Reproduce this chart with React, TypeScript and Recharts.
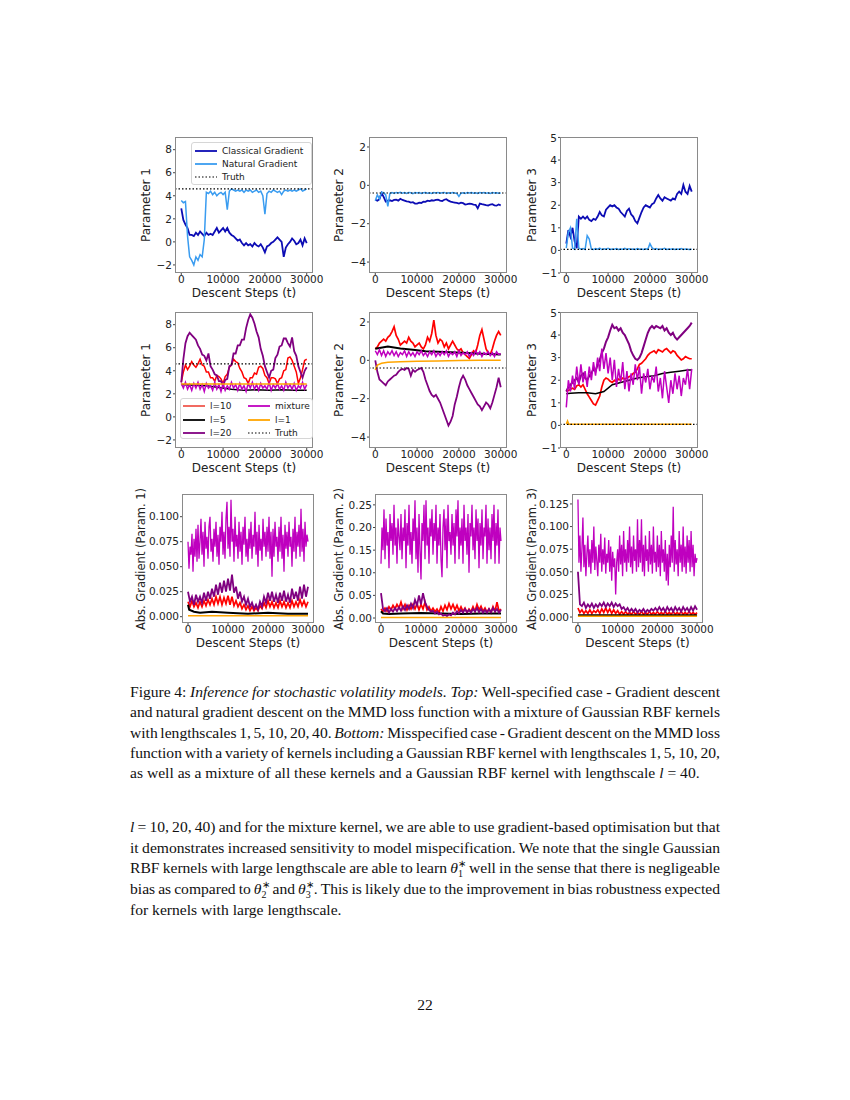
import React from 'react';
import { LineChart, Line, XAxis, YAxis, ReferenceLine } from 'recharts';

const STEPS = [
  0, 500, 1000, 1500, 2000, 2500, 3000, 3500, 4000, 4500,
  5000, 5500, 6000, 6500, 7000, 7500, 8000, 8500, 9000, 9500,
  10000, 10500, 11000, 11500, 12000, 12500, 13000, 13500, 14000, 14500,
  15000, 15500, 16000, 16500, 17000, 17500, 18000, 18500, 19000, 19500,
  20000, 20500, 21000, 21500, 22000, 22500, 23000, 23500, 24000, 24500,
  25000, 25500, 26000, 26500, 27000, 27500, 28000, 28500, 29000, 29500,
  30000,
];
// finer grid for the very noisy gradient traces
const STEPS_FINE = [
  0, 250, 500, 750, 1000, 1250, 1500, 1750, 2000, 2250,
  2500, 2750, 3000, 3250, 3500, 3750, 4000, 4250, 4500, 4750,
  5000, 5250, 5500, 5750, 6000, 6250, 6500, 6750, 7000, 7250,
  7500, 7750, 8000, 8250, 8500, 8750, 9000, 9250, 9500, 9750,
  10000, 10250, 10500, 10750, 11000, 11250, 11500, 11750, 12000, 12250,
  12500, 12750, 13000, 13250, 13500, 13750, 14000, 14250, 14500, 14750,
  15000, 15250, 15500, 15750, 16000, 16250, 16500, 16750, 17000, 17250,
  17500, 17750, 18000, 18250, 18500, 18750, 19000, 19250, 19500, 19750,
  20000, 20250, 20500, 20750, 21000, 21250, 21500, 21750, 22000, 22250,
  22500, 22750, 23000, 23250, 23500, 23750, 24000, 24250, 24500, 24750,
  25000, 25250, 25500, 25750, 26000, 26250, 26500, 26750, 27000, 27250,
  27500, 27750, 28000, 28250, 28500, 28750, 29000, 29250, 29500, 29750,
  30000,
];
const ENDS = [0, 30000];
const COARSE = [0, 3000, 6000, 9000, 12000, 15000, 18000, 21000, 24000, 27000, 30000];

const X_TICKS = [0, 10000, 20000, 30000];
const TICKS_P1 = [-2, 0, 2, 4, 6, 8];
const TICKS_P2 = [-4, -2, 0, 2];
const TICKS_P3 = [-1, 0, 1, 2, 3, 4, 5];
const TICKS_G1 = [0, 0.025, 0.05, 0.075, 0.1];
const TICKS_G2 = [0, 0.05, 0.1, 0.15, 0.2, 0.25];
const TICKS_G3 = [0, 0.025, 0.05, 0.075, 0.1, 0.125];

// true parameter values (dotted lines)
const TRUTH_1 = 4.6;
const TRUTH_2 = -0.4;
const TRUTH_3 = 0.05;

// --- top row: well-specified, classical vs natural gradient ---
const TOP1_CLASSICAL = [
  2.9, 1.9, 1.5, 1.2, 0.6, 0.6, 0.5, 0.8, 0.6, 0.9,
  0.7, 0.5, 0.8, 0.6, 0.7, 0.6, 0.9, 1.2, 0.8, 1.0,
  1.2, 0.9, 1.2, 0.8, 0.6, 0.5, 0.3, 0.1, 0.2, -0.1,
  -0.3, -0.1, -0.3, -0.2, -0.4, -0.1, -0.3, -0.4, -0.2, -0.5,
  -0.9, -0.4, -0.3, -0.1, 0.0, 0.2, 0.4, 0.2, 0.0, -1.3,
  -0.5, -0.2, 0.0, 0.3, 0.1, -0.2, -0.1, 0.2, -0.3, 0.3,
  -0.1,
];
const TOP1_NATURAL = [
  3.6, 3.4, 3.5, 0.5, -1.3, -1.6, -2.0, -1.3, -1.6, -1.1,
  -1.3, 0.2, 4.3, 4.2, 4.4, 4.1, 4.3, 4.0, 4.2, 4.3,
  4.1, 4.3, 2.8, 4.4, 4.6, 4.5, 4.4, 4.5, 4.4, 4.5,
  4.3, 4.5, 4.4, 4.5, 4.3, 4.4, 4.5, 4.3, 4.4, 4.0,
  2.4, 4.2, 4.4, 4.3, 4.5, 4.4, 4.3, 4.4, 4.1, 4.4,
  4.5, 4.4, 4.5, 4.4, 4.5, 4.4, 4.5, 4.6, 4.4, 4.5,
  4.6,
];
const TOP2_CLASSICAL = [
  -0.75, -0.8, -0.72, -0.4, -0.6, -0.85, -0.8, -0.78, -0.82, -0.76,
  -0.75, -0.8, -0.7, -0.76, -0.8, -0.84, -0.85, -0.9, -0.88, -0.95,
  -0.95, -0.9, -0.92, -0.85, -0.86, -0.8, -0.82, -0.78, -0.8, -0.76,
  -0.75, -0.8, -0.82, -0.75, -0.72, -0.8, -0.85, -0.88, -0.9, -0.92,
  -0.95, -0.9, -0.93, -1.0, -0.98, -0.95, -0.97, -1.0, -1.02, -1.2,
  -0.95, -0.98, -1.0, -1.03, -1.05, -1.0, -0.98, -1.04, -1.06, -1.0,
  -1.04,
];
const TOP2_NATURAL = [
  -0.8, -0.5, -0.7, -0.35, -0.38, -0.5, -1.1, -0.42, -0.38, -0.42,
  -0.37, -0.4, -0.36, -0.41, -0.38, -0.42, -0.37, -0.39, -0.43, -0.37,
  -0.4, -0.38, -0.42, -0.39, -0.37, -0.41, -0.39, -0.42, -0.37, -0.4,
  -0.38, -0.41, -0.39, -0.37, -0.42, -0.39, -0.41, -0.38, -0.4, -0.42,
  -0.58, -0.41, -0.39, -0.42, -0.38, -0.4, -0.37, -0.41, -0.39, -0.42,
  -0.38, -0.4, -0.37, -0.41, -0.39, -0.42, -0.38, -0.4, -0.39, -0.41,
  -0.4,
];
const TOP3_CLASSICAL = [
  0.3, 0.9, 0.6, 1.0, 0.4, 0.1, 1.5, 1.4, 1.5, 1.4,
  1.5, 1.35, 1.3, 1.4, 1.35, 1.5, 1.7, 1.55, 1.5, 1.8,
  1.9, 2.0, 1.95, 2.0, 1.9, 1.85, 1.7, 1.6, 1.5, 1.75,
  1.85, 1.6, 1.5, 1.3, 1.2, 1.45, 1.7, 1.9, 2.0, 1.95,
  1.9, 2.05, 2.1, 2.3, 2.45, 2.3, 2.2, 2.35, 2.3, 2.25,
  2.2, 2.3, 2.25, 2.5, 2.6, 2.5, 2.9, 2.6, 2.5, 2.85,
  2.6,
];
const TOP3_NATURAL = [
  0.1, 0.8, 1.0, 0.1, 0.05, 1.4, 0.1, 0.05, 0.08, 0.04,
  0.65, 0.5, 0.06, 0.04, 0.08, 0.05, 0.1, 0.04, 0.07, 0.05,
  0.09, 0.04, 0.06, 0.05, 0.08, 0.04, 0.06, 0.05, 0.09, 0.04,
  0.07, 0.05, 0.06, 0.04, 0.08, 0.05, 0.06, 0.04, 0.07, 0.05,
  0.3, 0.12, 0.05, 0.08, 0.04, 0.06, 0.05, 0.09, 0.04, 0.06,
  0.05, 0.07, 0.04, 0.06, 0.05, 0.08, 0.04, 0.06, 0.05, 0.04,
  0.05,
];

// --- middle row: misspecified, parameter traces per kernel ---
const MID1_L10 = [
  3.0, 3.9, 4.5, 4.1, 4.4, 4.8, 4.5, 4.3, 4.6, 5.0,
  4.5, 4.4, 3.9, 3.9, 3.4, 3.4, 3.1, 3.6, 3.5, 3.3,
  2.9, 3.5, 3.7, 4.3, 4.5, 5.0, 4.8, 4.7, 4.2, 3.9,
  3.4, 3.3, 2.9, 3.4, 3.4, 3.8, 3.7, 4.3, 4.4, 4.2,
  3.6, 3.4, 2.9, 3.4, 3.4, 3.3, 2.9, 3.3, 3.4, 4.0,
  4.1, 5.1, 5.2, 4.9, 4.4, 3.9, 2.9, 3.4, 4.1, 4.9,
  5.0,
];
const MID1_L5 = [2.8, 2.75, 2.7, 2.55, 2.4, 2.3, 2.35, 2.3, 2.35, 2.3, 2.3];
const MID1_L20 = [
  3.0, 5.0, 6.4, 7.0, 7.3, 7.1, 6.9, 6.7, 6.2, 5.9,
  5.4, 5.3, 4.9, 5.5, 4.4, 4.1, 3.7, 3.6, 3.1, 3.1,
  2.7, 3.2, 3.3, 4.4, 4.5, 5.5, 5.5, 6.2, 6.2, 6.7,
  6.7, 7.7, 8.4, 8.9, 8.6, 8.1, 7.4, 6.9, 5.9, 5.3,
  4.4, 3.9, 3.4, 4.0, 4.1, 5.1, 5.4, 6.1, 6.2, 6.8,
  6.8, 6.4, 6.1, 6.9, 5.7, 5.3, 4.4, 3.9, 3.4, 4.0,
  4.3,
];
const MID1_MIX = [
  2.9, 2.5, 3.0, 2.4, 2.8, 2.3, 2.9, 2.5, 3.0, 2.4,
  2.8, 2.2, 2.9, 2.5, 2.7, 2.3, 3.0, 2.4, 2.8, 2.2,
  2.9, 2.3, 2.7, 2.4, 3.0, 2.5, 2.8, 2.3, 2.9, 2.4,
  2.7, 2.2, 2.9, 2.5, 3.0, 2.4, 2.8, 2.3, 2.9, 2.5,
  2.7, 2.4, 3.0, 2.3, 2.8, 2.5, 2.9, 2.4, 2.7, 2.3,
  3.0, 2.5, 2.8, 2.4, 2.9, 2.3, 2.7, 2.5, 3.0, 2.4,
  2.8,
];
const MID1_L1 = [2.85, 2.85];

const MID2_L10 = [
  0.6, 0.7, 0.9, 1.0, 1.1, 1.0, 1.2, 1.3, 1.5, 1.75,
  1.3, 1.1, 0.8, 0.9, 1.0, 0.9, 1.2, 1.0, 0.9, 0.7,
  0.8, 0.9, 0.7, 0.6, 0.8, 1.2, 1.0, 1.4, 2.1, 1.3,
  0.9, 1.1, 1.0, 0.7, 0.9, 0.6, 0.8, 1.0, 0.8, 0.6,
  0.5, 0.6, 0.4, 0.3, 0.2, 0.1, 0.3, 0.5, 0.4, 0.8,
  1.3, 1.6, 1.1, 0.6, 0.4, 0.3, 0.6, 1.0, 1.3, 1.5,
  1.3,
];
const MID2_L5 = [0.6, 0.72, 0.62, 0.55, 0.48, 0.45, 0.42, 0.4, 0.36, 0.33, 0.3];
const MID2_L20 = [
  0.0, -0.6, -1.0, -1.1, -1.2, -1.3, -1.1, -1.0, -0.9, -0.8,
  -0.75, -0.6, -0.5, -0.45, -0.5, -0.4, -0.45, -0.8, -0.5, -0.6,
  -0.5, -0.45, -0.4, -0.6, -1.0, -1.3, -1.6, -1.8, -1.9, -1.8,
  -2.0, -2.2, -2.5, -2.8, -3.1, -3.4, -3.2, -2.9, -2.3, -1.9,
  -1.4, -1.0, -0.8, -1.0, -1.3, -1.5, -1.7, -1.9, -2.1, -2.3,
  -2.4, -2.6, -2.4, -2.2, -2.3, -2.5, -2.2, -1.8, -1.4, -0.9,
  -1.4,
];
const MID2_MIX = [
  0.5, 0.3, 0.55, 0.25, 0.5, 0.2, 0.45, 0.3, 0.5, 0.25,
  0.45, 0.2, 0.4, 0.3, 0.5, 0.2, 0.45, 0.25, 0.4, 0.2,
  0.45, 0.3, 0.5, 0.25, 0.4, 0.2, 0.45, 0.3, 0.5, 0.2,
  0.4, 0.25, 0.45, 0.3, 0.5, 0.2, 0.4, 0.3, 0.45, 0.2,
  0.5, 0.25, 0.4, 0.3, 0.45, 0.2, 0.4, 0.25, 0.5, 0.3,
  0.45, 0.2, 0.4, 0.3, 0.45, 0.25, 0.4, 0.2, 0.45, 0.3,
  0.35,
];
const MID2_L1_STEPS = [0, 500, 1500, 3000, 6000, 10000, 15000, 20000, 25000, 30000];
const MID2_L1 = [-0.5, -0.25, -0.15, -0.1, -0.07, -0.05, -0.03, -0.01, 0.0, 0.0];

const MID3_L10 = [
  1.5, 1.55, 1.6, 1.65, 1.6, 1.75, 1.8, 1.7, 1.8, 1.6,
  1.4, 1.25, 1.1, 0.95, 0.9, 1.1, 1.3, 1.7, 2.0, 2.1,
  2.05, 1.95, 1.9, 2.0, 1.95, 2.05, 2.0, 2.1, 2.05, 2.1,
  2.15, 2.2, 2.3, 2.35, 2.5, 2.7, 2.75, 2.85, 2.95, 3.1,
  3.2, 3.25, 3.3, 3.2, 3.35, 3.3, 3.25, 3.35, 3.4, 3.3,
  3.2, 3.3, 3.25, 3.1, 3.0, 2.9, 2.95, 3.05, 3.0, 2.95,
  2.95,
];
const MID3_L5_STEPS = [0, 1000, 3000, 5000, 7000, 9000, 11000, 13000, 15000, 17000, 19000, 21000, 23000, 25000, 27000, 29000, 30000];
const MID3_L5 = [1.4, 1.42, 1.45, 1.45, 1.4, 1.5, 1.8, 1.9, 2.0, 2.1, 2.15, 2.2, 2.3, 2.35, 2.4, 2.45, 2.45];
const MID3_L20 = [
  1.5, 1.7, 1.8, 1.9, 2.0, 2.1, 1.9, 2.2, 2.3, 2.1,
  2.0, 2.2, 2.3, 2.5, 2.4, 2.7, 2.9, 3.2, 3.4, 3.7,
  3.9, 4.2, 4.45, 4.3, 4.35, 4.2, 4.3, 4.1, 4.0, 3.8,
  3.6, 3.3, 3.1, 2.95, 2.9, 3.0, 3.2, 3.5, 3.8, 4.1,
  4.3, 4.4, 4.3, 4.4, 4.35, 4.3, 4.4, 4.2, 4.3, 4.1,
  4.0, 4.1, 3.9, 3.8, 3.9, 4.0, 4.1, 4.2, 4.3, 4.4,
  4.55,
];
const MID3_MIX = [
  0.8, 2.0, 1.5, 2.2, 1.6, 2.6, 1.8, 2.7, 1.9, 2.4,
  1.7, 2.6, 2.0, 2.8, 2.2, 3.0, 2.4, 3.4, 2.5, 3.2,
  2.3, 3.0, 2.0, 2.9, 1.7, 2.5, 1.9, 2.8, 1.6, 2.4,
  1.5, 2.3, 1.8, 2.7, 2.0, 2.6, 1.4, 2.3, 1.9, 2.5,
  1.6, 2.2, 1.9, 2.6, 1.5, 2.1, 1.2, 2.4, 1.7, 1.0,
  2.0, 1.4, 2.3, 1.6, 2.2, 1.3, 2.1, 1.8, 2.5, 1.6,
  2.5,
];
const MID3_L1_STEPS = [0, 300, 600, 1500, 30000];
const MID3_L1 = [0.05, 0.2, 0.05, 0.05, 0.05];

// --- bottom row: absolute gradients ---
const BOT1_L10 = [
  0.015, 0.01, 0.016, 0.01, 0.014, 0.009, 0.015, 0.01, 0.016, 0.011,
  0.017, 0.012, 0.018, 0.012, 0.02, 0.013, 0.02, 0.012, 0.019, 0.013,
  0.021, 0.012, 0.02, 0.011, 0.016, 0.01, 0.014, 0.008, 0.012, 0.007,
  0.011, 0.006, 0.01, 0.006, 0.009, 0.006, 0.011, 0.008, 0.014, 0.009,
  0.016, 0.01, 0.015, 0.009, 0.014, 0.009, 0.016, 0.01, 0.015, 0.009,
  0.014, 0.009, 0.016, 0.01, 0.015, 0.01, 0.017, 0.011, 0.016, 0.01,
  0.015,
];
const BOT1_L5_STEPS = [0, 300, 1500, 3000, 6000, 10000, 15000, 20000, 25000, 30000];
const BOT1_L5 = [0.012, 0.007, 0.005, 0.004, 0.005, 0.004, 0.003, 0.004, 0.003, 0.003];
const BOT1_L20 = [
  0.025, 0.015, 0.02, 0.012, 0.022, 0.015, 0.02, 0.014, 0.024, 0.016,
  0.025, 0.018, 0.028, 0.02, 0.032, 0.022, 0.034, 0.024, 0.036, 0.025,
  0.038, 0.026, 0.042, 0.024, 0.03, 0.018, 0.025, 0.015, 0.02, 0.012,
  0.018, 0.01, 0.014, 0.008, 0.012, 0.007, 0.015, 0.01, 0.02, 0.014,
  0.024, 0.016, 0.025, 0.015, 0.022, 0.014, 0.024, 0.016, 0.026, 0.015,
  0.022, 0.014, 0.028, 0.018, 0.025, 0.016, 0.03, 0.018, 0.032, 0.02,
  0.03,
];
const BOT1_MIX = [
  0.075, 0.048, 0.07, 0.062, 0.083, 0.045, 0.078, 0.06, 0.088, 0.055,
  0.092, 0.058, 0.075, 0.098, 0.062, 0.085, 0.05, 0.095, 0.068, 0.08,
  0.058, 0.09, 0.1, 0.065, 0.078, 0.055, 0.088, 0.07, 0.095, 0.06,
  0.082, 0.052, 0.09, 0.075, 0.105, 0.062, 0.085, 0.058, 0.098, 0.115,
  0.068, 0.09, 0.06, 0.117, 0.075, 0.088, 0.055, 0.1, 0.07, 0.082,
  0.058, 0.095, 0.065, 0.085, 0.052, 0.09, 0.072, 0.1, 0.06, 0.078,
  0.055, 0.088, 0.068, 0.095, 0.058, 0.082, 0.07, 0.105, 0.062, 0.085,
  0.05, 0.092, 0.066, 0.078, 0.056, 0.098, 0.07, 0.085, 0.06, 0.09,
  0.065, 0.1, 0.058, 0.085, 0.04, 0.088, 0.06, 0.095, 0.07, 0.08,
  0.055, 0.09, 0.065, 0.1, 0.058, 0.082, 0.045, 0.092, 0.068, 0.085,
  0.06, 0.095, 0.07, 0.08, 0.05, 0.088, 0.065, 0.1, 0.058, 0.085,
  0.07, 0.092, 0.06, 0.108, 0.065, 0.088, 0.055, 0.095, 0.07, 0.082,
  0.075,
];
const BOT1_L1 = [0.001, 0.001];

const BOT2_L10 = [
  0.02, 0.015, 0.022, 0.015, 0.025, 0.018, 0.028, 0.02, 0.03, 0.022,
  0.035, 0.02, 0.03, 0.018, 0.028, 0.02, 0.03, 0.02, 0.032, 0.018,
  0.03, 0.02, 0.035, 0.018, 0.025, 0.015, 0.022, 0.014, 0.02, 0.012,
  0.025, 0.015, 0.028, 0.018, 0.032, 0.02, 0.03, 0.018, 0.028, 0.016,
  0.025, 0.015, 0.022, 0.012, 0.02, 0.014, 0.025, 0.015, 0.03, 0.018,
  0.026, 0.015, 0.022, 0.013, 0.02, 0.012, 0.025, 0.015, 0.035, 0.015,
  0.02,
];
const BOT2_L5_STEPS = [0, 500, 2000, 5000, 10000, 15000, 20000, 25000, 30000];
const BOT2_L5 = [0.015, 0.01, 0.009, 0.01, 0.011, 0.01, 0.009, 0.01, 0.01];
const BOT2_L20 = [
  0.055, 0.02, 0.015, 0.022, 0.012, 0.02, 0.014, 0.022, 0.015, 0.024,
  0.016, 0.026, 0.018, 0.028, 0.02, 0.032, 0.022, 0.04, 0.028, 0.05,
  0.03, 0.055, 0.035, 0.025, 0.018, 0.014, 0.016, 0.01, 0.014, 0.008,
  0.01, 0.005, 0.007, 0.004, 0.008, 0.006, 0.012, 0.008, 0.015, 0.01,
  0.018, 0.012, 0.02, 0.013, 0.018, 0.012, 0.02, 0.014, 0.022, 0.013,
  0.02, 0.012, 0.018, 0.012, 0.02, 0.013, 0.022, 0.014, 0.02, 0.012,
  0.018,
];
const BOT2_MIX = [
  0.12, 0.2, 0.15, 0.24, 0.13, 0.22, 0.16, 0.19, 0.11, 0.23,
  0.17, 0.21, 0.14, 0.25, 0.16, 0.2, 0.12, 0.22, 0.18, 0.15,
  0.23, 0.13, 0.2, 0.17, 0.24, 0.11, 0.21, 0.16, 0.25, 0.14,
  0.19, 0.12, 0.22, 0.17, 0.26, 0.13, 0.2, 0.1, 0.23, 0.15,
  0.085, 0.21, 0.17, 0.25, 0.13, 0.26, 0.16, 0.2, 0.12, 0.22,
  0.18, 0.24, 0.14, 0.21, 0.17, 0.25, 0.12, 0.2, 0.16, 0.23,
  0.13, 0.09, 0.2, 0.24, 0.15, 0.22, 0.11, 0.25, 0.17, 0.19,
  0.14, 0.23, 0.16, 0.21, 0.12, 0.24, 0.18, 0.26, 0.13, 0.2,
  0.16, 0.22, 0.12, 0.25, 0.17, 0.2, 0.14, 0.23, 0.1, 0.21,
  0.18, 0.25, 0.15, 0.2, 0.13, 0.24, 0.17, 0.22, 0.11, 0.21,
  0.16, 0.24, 0.13, 0.2, 0.18, 0.25, 0.12, 0.22, 0.15, 0.2,
  0.13, 0.23, 0.17, 0.25, 0.12, 0.21, 0.16, 0.24, 0.12, 0.2,
  0.17,
];
const BOT2_L1 = [0.001, 0.001];

const BOT3_L10 = [
  0.01, 0.005, 0.008, 0.004, 0.007, 0.004, 0.008, 0.004, 0.007, 0.005,
  0.008, 0.004, 0.009, 0.005, 0.01, 0.005, 0.009, 0.004, 0.008, 0.004,
  0.007, 0.003, 0.006, 0.003, 0.006, 0.003, 0.005, 0.003, 0.006, 0.003,
  0.005, 0.003, 0.006, 0.003, 0.005, 0.003, 0.006, 0.003, 0.005, 0.003,
  0.006, 0.003, 0.005, 0.003, 0.006, 0.003, 0.005, 0.003, 0.006, 0.003,
  0.005, 0.003, 0.006, 0.003, 0.005, 0.003, 0.006, 0.003, 0.005, 0.003,
  0.005,
];
const BOT3_L5 = [0.002, 0.002];
const BOT3_L20 = [
  0.05, 0.014, 0.012, 0.016, 0.01, 0.014, 0.011, 0.015, 0.01, 0.014,
  0.011, 0.015, 0.012, 0.016, 0.011, 0.015, 0.012, 0.016, 0.011, 0.015,
  0.012, 0.014, 0.009, 0.011, 0.007, 0.01, 0.006, 0.009, 0.006, 0.009,
  0.005, 0.008, 0.006, 0.009, 0.005, 0.008, 0.006, 0.009, 0.007, 0.01,
  0.007, 0.011, 0.007, 0.01, 0.006, 0.011, 0.007, 0.01, 0.006, 0.011,
  0.007, 0.01, 0.006, 0.011, 0.007, 0.01, 0.006, 0.011, 0.007, 0.012,
  0.008,
];
const BOT3_MIX = [
  0.13, 0.06, 0.09, 0.05, 0.075, 0.11, 0.055, 0.08, 0.045, 0.07,
  0.09, 0.055, 0.075, 0.048, 0.085, 0.06, 0.1, 0.052, 0.078, 0.062,
  0.045, 0.08, 0.06, 0.092, 0.05, 0.075, 0.058, 0.088, 0.048, 0.07,
  0.06, 0.085, 0.05, 0.078, 0.04, 0.072, 0.055, 0.065, 0.025, 0.06,
  0.075, 0.05, 0.09, 0.058, 0.08, 0.045, 0.095, 0.06, 0.075, 0.05,
  0.085, 0.06, 0.1, 0.055, 0.078, 0.048, 0.09, 0.062, 0.075, 0.05,
  0.108, 0.055, 0.085, 0.06, 0.108, 0.05, 0.08, 0.045, 0.09, 0.062,
  0.075, 0.05, 0.095, 0.058, 0.08, 0.048, 0.1, 0.06, 0.072, 0.05,
  0.09, 0.055, 0.08, 0.045, 0.095, 0.06, 0.075, 0.05, 0.085, 0.04,
  0.07, 0.035, 0.08, 0.055, 0.09, 0.06, 0.122, 0.05, 0.085, 0.058,
  0.075, 0.045, 0.095, 0.06, 0.08, 0.05, 0.1, 0.055, 0.078, 0.048,
  0.09, 0.06, 0.085, 0.05, 0.095, 0.055, 0.08, 0.045, 0.07, 0.06,
  0.065,
];
const BOT3_L1 = [0.001, 0.001];

const COLORS = {
  classical: '#0c0cb4',
  natural: '#3a9cf0',
  l10: '#ff0000',
  l5: '#000000',
  l20: '#800080',
  mix: '#bf00bf',
  l1: '#ffa500',
};

const FONT = '"DejaVu Sans", sans-serif';
const SERIF = '"Liberation Serif", "Times New Roman", serif';
const YW = 44;
const XH = 18;
const PAD = 4;
const RIGHT = 20;

type Series = { key: string; steps: number[]; values: number[]; color: string; width?: number };
type PanelCfg = {
  left: number; top: number; width: number; height: number;
  yDomain: [number, number]; yTicks: number[]; fmt: (v: number) => string;
  yLabel: string; yLabelX: number; yLabelSize?: number; series: Series[]; truth?: number;
};

const fmtInt = (v: number) => String(v).replace('-', '\u2212');
const fmt3 = (v: number) => v.toFixed(3);
const fmt2 = (v: number) => v.toFixed(2);

const toPoints = (steps: number[], values: number[]) => steps.map((t, i) => ({ t, v: values[i] }));

const tickStyle = { fontSize: 10.5, fill: '#222', fontFamily: FONT };

function Panel({ p }: { p: PanelCfg }) {
  return (
    <>
      <div style={{ position: 'absolute', left: p.left - YW, top: p.top - PAD }}>
        <LineChart width={YW + p.width + RIGHT} height={PAD + p.height + XH} margin={{ top: PAD, right: RIGHT, bottom: 0, left: 0 }}>
          <XAxis type="number" dataKey="t" domain={[-1500, 31500]} ticks={X_TICKS} allowDataOverflow
            height={XH} axisLine={false} tickSize={2} tickMargin={1} tick={tickStyle} tickLine={{ stroke: '#444' }} />
          <YAxis type="number" dataKey="v" domain={p.yDomain} ticks={p.yTicks} allowDataOverflow width={YW}
            axisLine={false} tickSize={2} tickMargin={1} tick={tickStyle} tickLine={{ stroke: '#444' }} tickFormatter={p.fmt} />
          {p.series.map((s) => (
            <Line key={s.key} data={toPoints(s.steps, s.values)} dataKey="v" type="linear" stroke={s.color}
              strokeWidth={s.width ?? 1.5} dot={false} activeDot={false} isAnimationActive={false} />
          ))}
          {p.truth !== undefined && (
            <ReferenceLine y={p.truth} stroke="#000" strokeWidth={1.2} strokeDasharray="1.5 2" />
          )}
        </LineChart>
      </div>
      <div style={{ position: 'absolute', left: p.left, top: p.top, width: p.width, height: p.height, border: '1px solid #8a8a8a', boxSizing: 'border-box' }} />
      <div style={{ position: 'absolute', left: p.yLabelX, top: p.top + p.height / 2, transform: 'translate(-50%, -50%) rotate(-90deg)', fontFamily: FONT, fontSize: p.yLabelSize ?? 12, color: '#222', whiteSpace: 'nowrap' }}>
        {p.yLabel}
      </div>
      <div style={{ position: 'absolute', left: p.left + p.width / 2, top: p.top + p.height + 20, transform: 'translate(-50%, -50%)', fontFamily: FONT, fontSize: 12, color: '#222', whiteSpace: 'nowrap' }}>
        Descent Steps (t)
      </div>
    </>
  );
}

function LegendRow({ x, y, color, label, dotted }: { x: number; y: number; color: string; label: string; dotted?: boolean }) {
  return (
    <div style={{ position: 'absolute', left: x, top: y - 6, height: 12, display: 'flex', alignItems: 'center', whiteSpace: 'nowrap' }}>
      <svg width={22} height={12}>
        <line x1={0} y1={6} x2={22} y2={6} stroke={color} strokeWidth={dotted ? 1.2 : 1.8} strokeDasharray={dotted ? '1.5 2' : undefined} />
      </svg>
      <span style={{ marginLeft: 5, fontFamily: FONT, fontSize: 9, color: '#222' }}>{label}</span>
    </div>
  );
}

function TopLegend() {
  return (
    <div style={{ position: 'absolute', left: 191, top: 142, width: 119, height: 41, border: '1px solid #d6d6d6', borderRadius: 3, background: 'rgba(255,255,255,0.85)' }}>
      <LegendRow x={3} y={8} color={COLORS.classical} label="Classical Gradient" />
      <LegendRow x={3} y={21} color={COLORS.natural} label="Natural Gradient" />
      <LegendRow x={3} y={34} color="#000" label="Truth" dotted />
    </div>
  );
}

function KernelLegend() {
  return (
    <div style={{ position: 'absolute', left: 180, top: 398, width: 133, height: 41, border: '1px solid #d6d6d6', borderRadius: 3, background: 'rgba(255,255,255,0.85)', boxSizing: 'border-box' }}>
      <LegendRow x={2} y={7} color="#f05a50" label="l=10" />
      <LegendRow x={2} y={21} color={COLORS.l5} label="l=5" />
      <LegendRow x={2} y={34} color={COLORS.l20} label="l=20" />
      <LegendRow x={67} y={7} color={COLORS.mix} label="mixture" />
      <LegendRow x={67} y={21} color={COLORS.l1} label="l=1" />
      <LegendRow x={67} y={34} color="#000" label="Truth" dotted />
    </div>
  );
}

const kernelSeries = (l10: Series, l5: Series, l20: Series, mix: Series, l1: Series) => [l10, l5, l20, mix, l1];

const PANELS: PanelCfg[] = [
  {
    left: 175, top: 137, width: 138, height: 136, yDomain: [-2.7, 9.1], yTicks: TICKS_P1, fmt: fmtInt,
    yLabel: 'Parameter 1', yLabelX: 146, truth: TRUTH_1,
    series: [
      { key: 'classical', steps: STEPS, values: TOP1_CLASSICAL, color: COLORS.classical, width: 1.8 },
      { key: 'natural', steps: STEPS, values: TOP1_NATURAL, color: COLORS.natural },
    ],
  },
  {
    left: 369, top: 137, width: 138, height: 136, yDomain: [-4.57, 2.52], yTicks: TICKS_P2, fmt: fmtInt,
    yLabel: 'Parameter 2', yLabelX: 339, truth: TRUTH_2,
    series: [
      { key: 'classical', steps: STEPS, values: TOP2_CLASSICAL, color: COLORS.classical, width: 1.8 },
      { key: 'natural', steps: STEPS, values: TOP2_NATURAL, color: COLORS.natural },
    ],
  },
  {
    left: 560, top: 137, width: 138, height: 136, yDomain: [-1, 5.02], yTicks: TICKS_P3, fmt: fmtInt,
    yLabel: 'Parameter 3', yLabelX: 532, truth: TRUTH_3,
    series: [
      { key: 'classical', steps: STEPS, values: TOP3_CLASSICAL, color: COLORS.classical, width: 1.8 },
      { key: 'natural', steps: STEPS, values: TOP3_NATURAL, color: COLORS.natural },
    ],
  },
  {
    left: 175, top: 312, width: 138, height: 136, yDomain: [-2.7, 9.1], yTicks: TICKS_P1, fmt: fmtInt,
    yLabel: 'Parameter 1', yLabelX: 146, truth: TRUTH_1,
    series: kernelSeries(
      { key: 'l10', steps: STEPS, values: MID1_L10, color: COLORS.l10 },
      { key: 'l5', steps: COARSE, values: MID1_L5, color: COLORS.l5 },
      { key: 'l20', steps: STEPS, values: MID1_L20, color: COLORS.l20, width: 1.8 },
      { key: 'mix', steps: STEPS, values: MID1_MIX, color: COLORS.mix },
      { key: 'l1', steps: ENDS, values: MID1_L1, color: COLORS.l1 },
    ),
  },
  {
    left: 369, top: 312, width: 138, height: 136, yDomain: [-4.57, 2.52], yTicks: TICKS_P2, fmt: fmtInt,
    yLabel: 'Parameter 2', yLabelX: 339, truth: TRUTH_2,
    series: kernelSeries(
      { key: 'l10', steps: STEPS, values: MID2_L10, color: COLORS.l10, width: 1.7 },
      { key: 'l5', steps: COARSE, values: MID2_L5, color: COLORS.l5, width: 2 },
      { key: 'l20', steps: STEPS, values: MID2_L20, color: COLORS.l20, width: 1.8 },
      { key: 'mix', steps: STEPS, values: MID2_MIX, color: COLORS.mix },
      { key: 'l1', steps: MID2_L1_STEPS, values: MID2_L1, color: COLORS.l1 },
    ),
  },
  {
    left: 560, top: 312, width: 138, height: 136, yDomain: [-1, 5.02], yTicks: TICKS_P3, fmt: fmtInt,
    yLabel: 'Parameter 3', yLabelX: 532, truth: TRUTH_3,
    series: kernelSeries(
      { key: 'l10', steps: STEPS, values: MID3_L10, color: COLORS.l10, width: 1.7 },
      { key: 'l5', steps: MID3_L5_STEPS, values: MID3_L5, color: COLORS.l5 },
      { key: 'l20', steps: STEPS, values: MID3_L20, color: COLORS.l20, width: 2 },
      { key: 'mix', steps: STEPS, values: MID3_MIX, color: COLORS.mix },
      { key: 'l1', steps: MID3_L1_STEPS, values: MID3_L1, color: COLORS.l1 },
    ),
  },
  {
    left: 182, top: 494, width: 132, height: 129, yDomain: [-0.0063, 0.1227], yTicks: TICKS_G1, fmt: fmt3,
    yLabel: 'Abs. Gradient (Param. 1)', yLabelX: 141, yLabelSize: 11.5,
    series: kernelSeries(
      { key: 'l10', steps: STEPS, values: BOT1_L10, color: COLORS.l10, width: 1.7 },
      { key: 'l5', steps: BOT1_L5_STEPS, values: BOT1_L5, color: COLORS.l5, width: 2 },
      { key: 'l20', steps: STEPS, values: BOT1_L20, color: COLORS.l20, width: 1.8 },
      { key: 'mix', steps: STEPS_FINE, values: BOT1_MIX, color: COLORS.mix, width: 1.3 },
      { key: 'l1', steps: ENDS, values: BOT1_L1, color: COLORS.l1 },
    ),
  },
  {
    left: 375, top: 494, width: 132, height: 129, yDomain: [-0.011, 0.274], yTicks: TICKS_G2, fmt: fmt2,
    yLabel: 'Abs. Gradient (Param. 2)', yLabelX: 339, yLabelSize: 11.5,
    series: kernelSeries(
      { key: 'l10', steps: STEPS, values: BOT2_L10, color: COLORS.l10, width: 1.7 },
      { key: 'l5', steps: BOT2_L5_STEPS, values: BOT2_L5, color: COLORS.l5, width: 2 },
      { key: 'l20', steps: STEPS, values: BOT2_L20, color: COLORS.l20, width: 1.8 },
      { key: 'mix', steps: STEPS_FINE, values: BOT2_MIX, color: COLORS.mix, width: 1.3 },
      { key: 'l1', steps: ENDS, values: BOT2_L1, color: COLORS.l1 },
    ),
  },
  {
    left: 572, top: 494, width: 131, height: 129, yDomain: [-0.0066, 0.136], yTicks: TICKS_G3, fmt: fmt3,
    yLabel: 'Abs. Gradient (Param. 3)', yLabelX: 532, yLabelSize: 11.5,
    series: kernelSeries(
      { key: 'l10', steps: STEPS, values: BOT3_L10, color: COLORS.l10, width: 1.7 },
      { key: 'l5', steps: ENDS, values: BOT3_L5, color: COLORS.l5, width: 2 },
      { key: 'l20', steps: STEPS, values: BOT3_L20, color: COLORS.l20, width: 1.8 },
      { key: 'mix', steps: STEPS_FINE, values: BOT3_MIX, color: COLORS.mix, width: 1.3 },
      { key: 'l1', steps: ENDS, values: BOT3_L1, color: COLORS.l1 },
    ),
  },
];

const TEXT_SIZE = 15.6;

function TextLine({ top, lh, last, children }: { top: number; lh: number; last?: boolean; children: React.ReactNode }) {
  return (
    <div style={{
      position: 'absolute', left: 130, top, width: 590, fontFamily: SERIF, fontSize: TEXT_SIZE, lineHeight: `${lh}px`,
      color: '#111', textAlign: last ? 'left' : 'justify', textAlignLast: last ? 'left' : 'justify',
      wordSpacing: last ? 0 : -1.5, whiteSpace: 'nowrap',
    }}>
      {children}
    </div>
  );
}

function Theta({ sub }: { sub: string }) {
  return (
    <span style={{ whiteSpace: 'nowrap', wordSpacing: 0 }}>
      <i>θ</i>
      <span style={{ display: 'inline-block', verticalAlign: -4, lineHeight: '10px', fontSize: 10, textAlign: 'left' }}>
        <span style={{ display: 'block' }}>∗</span>
        <span style={{ display: 'block' }}>{sub}</span>
      </span>
    </span>
  );
}

export default function App() {
  const cap = 682;
  const capH = 20.3;
  const body = 817;
  const bodyH = 20.7;
  return (
    <div style={{ position: 'absolute', left: 0, top: 0, width: 850, height: 1100, background: '#fff', overflow: 'hidden' }}>
      {PANELS.map((p, i) => <Panel key={i} p={p} />)}
      <TopLegend />
      <KernelLegend />

      <TextLine top={cap} lh={capH}>Figure 4: <i>Inference for stochastic volatility models. Top:</i> Well-specified case - Gradient descent</TextLine>
      <TextLine top={cap + capH} lh={capH}>and natural gradient descent on the MMD loss function with a mixture of Gaussian RBF kernels</TextLine>
      <TextLine top={cap + capH * 2} lh={capH}>with lengthscales 1, 5, 10, 20, 40. <i>Bottom:</i> Misspecified case - Gradient descent on the MMD loss</TextLine>
      <TextLine top={cap + capH * 3} lh={capH}>function with a variety of kernels including a Gaussian RBF kernel with lengthscales 1, 5, 10, 20,</TextLine>
      <TextLine top={cap + capH * 4} lh={capH} last>as well as a mixture of all these kernels and a Gaussian RBF kernel with lengthscale <i>l</i> = 40.</TextLine>

      <TextLine top={body} lh={bodyH}><i>l</i> = 10, 20, 40) and for the mixture kernel, we are able to use gradient-based optimisation but that</TextLine>
      <TextLine top={body + bodyH} lh={bodyH}>it demonstrates increased sensitivity to model mispecification. We note that the single Gaussian</TextLine>
      <TextLine top={body + bodyH * 2} lh={bodyH}>RBF kernels with large lengthscale are able to learn <Theta sub="1" /> well in the sense that there is negligeable</TextLine>
      <TextLine top={body + bodyH * 3} lh={bodyH}>bias as compared to <Theta sub="2" /> and <Theta sub="3" />. This is likely due to the improvement in bias robustness expected</TextLine>
      <TextLine top={body + bodyH * 4} lh={bodyH} last>for kernels with large lengthscale.</TextLine>

      <div style={{ position: 'absolute', left: 0, width: 850, top: 995, textAlign: 'center', fontFamily: SERIF, fontSize: TEXT_SIZE, lineHeight: '20px', color: '#111' }}>22</div>
    </div>
  );
}
